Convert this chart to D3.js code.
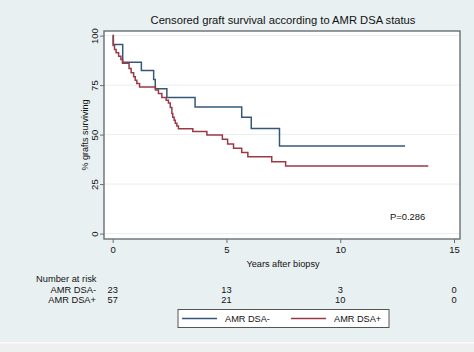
<!DOCTYPE html>
<html>
<head>
<meta charset="utf-8">
<script src="https://cdn.jsdelivr.net/npm/d3@7"></script>
<style>
  body { margin: 0; background: #efefef; }
  svg text { font-family: "Liberation Sans", Arial, sans-serif; fill: #111; }
</style>
</head>
<body>
<svg id="chart" width="474" height="352"></svg>
<script>
// KM curves (years, % surviving)
const negTime = [0, 0.03, 0.44, 1.26, 1.80, 1.87, 2.38, 3.62, 5.67, 6.09, 7.33, 12.85];
const negSurv = [100, 95.5, 86.6, 82.4, 77.8, 73.1, 68.7, 64.0, 58.7, 53.1, 44.2, 44.2];

const posTime = [0, 0.02, 0.08, 0.15, 0.26, 0.36, 0.43, 0.72, 0.81, 0.92, 0.99, 1.06, 1.18,
  1.88, 2.01, 2.16, 2.35, 2.45, 2.53, 2.60, 2.64, 2.70, 2.75, 2.82, 2.89,
  3.52, 4.14, 4.82, 5.05, 5.31, 5.67, 5.94, 6.99, 7.60, 13.87];
const posSurv = [100, 95.0, 93.0, 91.3, 89.6, 87.9, 86.0, 83.4, 81.2, 79.2, 77.5, 75.8, 74.1,
  72.5, 70.8, 68.8, 67.4, 66.0, 63.7, 60.7, 58.7, 57.3, 55.7, 54.3, 53.0,
  51.6, 49.8, 47.6, 45.2, 43.1, 41.0, 38.8, 36.3, 34.2, 34.2];

// number at risk table
const riskTimes = [0, 5, 10, 15];
const riskNeg = [23, 13, 3, 0];
const riskPos = [57, 21, 10, 0];

const yTicks = [0, 25, 50, 75, 100];
const xTicks = [0, 5, 10, 15];

const groups = ['AMR DSA-', 'AMR DSA+'];
const colors = ['#35587a', '#9a3a47'];

const title = 'Censored graft survival according to AMR DSA status';
const xLabel = 'Years after biopsy';
const yLabel = '% grafts surviving';

const svg = d3.select('#chart');

// background
svg.append('rect').attr('width', 474).attr('height', 342).attr('fill', '#e9f0f2');
svg.append('rect').attr('y', 342).attr('width', 474).attr('height', 1.5).attr('fill', '#fbfbfb');

const frame = {left: 104, top: 31, right: 460, bottom: 239};

const x = d3.scaleLinear().domain([0, 15]).range([112.7, 454]);
const y = d3.scaleLinear().domain([0, 100]).range([233.6, 35.6]);

// plot region
svg.append('rect')
  .attr('x', frame.left).attr('y', frame.top)
  .attr('width', frame.right - frame.left).attr('height', frame.bottom - frame.top)
  .attr('fill', '#fff');

// gridlines
svg.append('g')
  .selectAll('line')
  .data(yTicks)
  .join('line')
  .attr('x1', frame.left).attr('x2', frame.right)
  .attr('y1', d => y(d)).attr('y2', d => y(d))
  .attr('stroke', '#e6eff1').attr('stroke-width', 1);

// curves
const line = d3.line()
  .x(d => x(d[0]))
  .y(d => y(d[1]))
  .curve(d3.curveStepAfter);

const series = [
  d3.zip(negTime, negSurv),
  d3.zip(posTime, posSurv)
];

svg.append('g')
  .selectAll('path')
  .data(series)
  .join('path')
  .attr('d', line)
  .attr('fill', 'none')
  .attr('stroke', (d, i) => colors[i])
  .attr('stroke-width', 1.5);

// frame
svg.append('rect')
  .attr('x', frame.left).attr('y', frame.top)
  .attr('width', frame.right - frame.left).attr('height', frame.bottom - frame.top)
  .attr('fill', 'none').attr('stroke', '#6a6e73').attr('stroke-width', 1.4);

// y axis
const yAxis = svg.append('g')
  .attr('transform', `translate(${frame.left},0)`)
  .call(d3.axisLeft(y).tickValues(yTicks).tickSize(4).tickFormat(d3.format('d')));
yAxis.select('.domain').remove();
yAxis.selectAll('line').attr('stroke', '#6a6e73');
yAxis.selectAll('text')
  .attr('x', null).attr('dy', null)
  .attr('transform', 'translate(-6,0) rotate(-90)')
  .attr('text-anchor', 'middle')
  .attr('font-size', 9.5)
  .style('font-family', '"Liberation Sans", Arial, sans-serif')
  .attr('fill', '#111');

// x axis
const xAxis = svg.append('g')
  .attr('transform', `translate(0,${frame.bottom})`)
  .call(d3.axisBottom(x).tickValues(xTicks).tickSize(4).tickFormat(d3.format('d')));
xAxis.select('.domain').remove();
xAxis.selectAll('line').attr('stroke', '#6a6e73');
xAxis.selectAll('text')
  .attr('y', 14).attr('dy', null)
  .attr('font-size', 9.5)
  .style('font-family', '"Liberation Sans", Arial, sans-serif')
  .attr('fill', '#111');

// labels
svg.append('text')
  .attr('x', 283).attr('y', 24)
  .attr('text-anchor', 'middle')
  .attr('font-size', 11.2)
  .text(title);

svg.append('text')
  .attr('x', 283).attr('y', 266.5)
  .attr('text-anchor', 'middle')
  .attr('font-size', 9.2)
  .text(xLabel);

svg.append('text')
  .attr('transform', 'translate(87.5,135) rotate(-90)')
  .attr('text-anchor', 'middle')
  .attr('font-size', 9)
  .text(yLabel);

svg.append('text')
  .attr('x', 390).attr('y', 220)
  .attr('font-size', 9.4)
  .text('P=0.286');

// number at risk
svg.append('text')
  .attr('x', 96.5).attr('y', 281.5)
  .attr('text-anchor', 'end')
  .attr('font-size', 9.3)
  .text('Number at risk');

const riskRows = [riskNeg, riskPos];
riskRows.forEach((row, i) => {
  const yy = 292.5 + i * 10.7;
  svg.append('text')
    .attr('x', 96).attr('y', yy)
    .attr('text-anchor', 'end')
    .attr('font-size', 9.3)
    .text(groups[i]);
  svg.append('g')
    .selectAll('text')
    .data(row)
    .join('text')
    .attr('x', (d, j) => x(riskTimes[j]))
    .attr('y', yy)
    .attr('text-anchor', 'middle')
    .attr('font-size', 9.3)
    .text(d => d);
});

// legend
const legend = svg.append('g');
legend.append('rect')
  .attr('x', 178).attr('y', 309.5)
  .attr('width', 211).attr('height', 18)
  .attr('fill', '#fff').attr('stroke', '#555').attr('stroke-width', 1);

const legX = [182, 291];
groups.forEach((g, i) => {
  legend.append('line')
    .attr('x1', legX[i]).attr('x2', legX[i] + 35)
    .attr('y1', 318.5).attr('y2', 318.5)
    .attr('stroke', colors[i]).attr('stroke-width', 1.5);
  legend.append('text')
    .attr('x', legX[i] + 43).attr('y', 322)
    .attr('font-size', 9.2)
    .text(g);
});
</script>
</body>
</html>
